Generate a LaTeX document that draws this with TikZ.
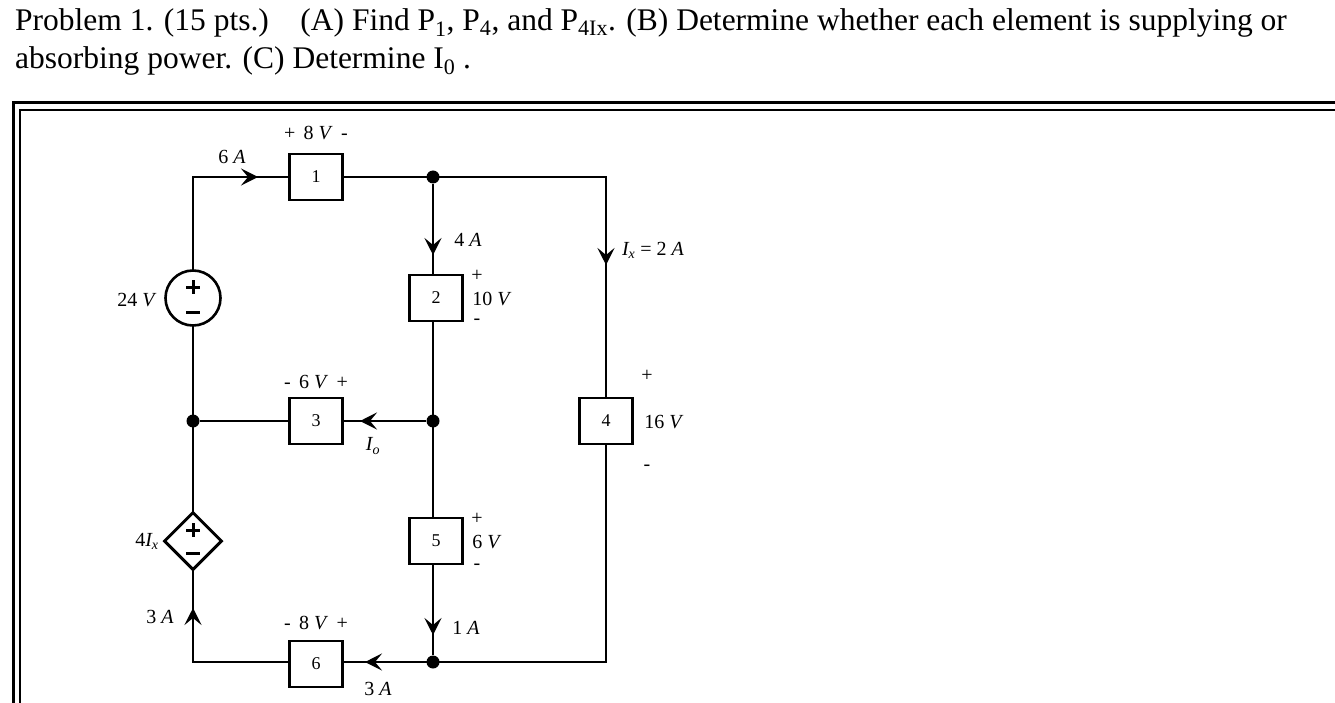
\documentclass[tikz,border=0pt]{standalone}
\usepackage{fontspec}
\setmainfont{Liberation Serif}
\usetikzlibrary{arrows.meta,shapes.geometric}
\begin{document}
\begin{tikzpicture}[x=1pt,y=-1pt,
  w/.style={line width=2.2pt},
  el/.style={draw,line width=2.6pt,minimum width=53pt,minimum height=46pt,inner sep=0pt,font=\fontsize{18}{18}\selectfont,fill=white},
  dot/.style={circle,fill,inner sep=0pt,minimum size=13pt},
  lab/.style={font=\fontsize{20}{20}\selectfont},
  cur/.style={line width=2.2pt,-{Stealth[length=17pt,width=17pt,inset=7pt]}}]
\useasboundingbox (0,0) rectangle (1335,703);
\node[anchor=north west,align=left,inner sep=0pt,font=\fontsize{31.5}{38}\selectfont] (title) at (15,8)
 {Problem 1. (15 pts.)\quad (A) Find P\textsubscript{1}, P\textsubscript{4}, and P\textsubscript{4Ix}. (B) Determine whether each element is supplying or\\absorbing power. (C) Determine I\textsubscript{0} .};
% frame
\draw[line width=3pt] (13,710) -- (13,103) -- (1340,103);
\draw[line width=2pt] (20,710) -- (20,110) -- (1340,110);
\coordinate (tl) at (193,177); \coordinate (tr) at (606,177);
\coordinate (bl) at (193,662); \coordinate (br) at (606,662);
\node[dot] (nt) at (433,177) {};
\node[dot] (nml) at (193,421) {};
\node[dot] (nmr) at (433,421) {};
\node[dot] (nb) at (433,662) {};
\draw[w] (tl) -- (tr) -- (br) -- (bl) -- cycle;
\draw[w] (nt) -- (nb);
\draw[w] (nml) -- (nmr);
\node[el] (e1) at (316,177) {1};
\node[el] (e2) at (436,298) {2};
\node[el] (e3) at (316,421) {3};
\node[el] (e4) at (606,421) {4};
\node[el] (e5) at (436,541) {5};
\node[el] (e6) at (316,664) {6};
\node[circle,draw,line width=2.6pt,minimum size=55pt,fill=white] (v24) at (193,298) {};
\draw[line width=3pt] (186,287)--(200,287) (193,280)--(193,294) (186,312)--(200,312);
\node[diamond,draw,line width=3pt,minimum size=58pt,inner sep=0pt,fill=white] (dep) at (193,541) {};
\draw[line width=3pt] (186,530)--(200,530) (193,523)--(193,537) (186,553)--(200,553);
\draw[cur] (225,177) -- (258,177);
\draw[cur] (433,222) -- (433,255);
\draw[cur] (606,232) -- (606,265);
\draw[cur] (412,421) -- (360,421);
\draw[cur] (433,602) -- (433,635);
\draw[cur] (412,662) -- (365,662);
\draw[cur] (193,642) -- (193,608);
\node[lab] (l1) at (316,133) {+\, 8 \textit{V} \,-};
\node[lab] (l2) at (232,157) {6 \textit{A}};
\node[lab] (l3) at (468,240) {4 \textit{A}};
\node[lab] (l4) at (653,250) {\textit{I\textsubscript{x}} = 2 \textit{A}};
\node[lab] (l5) at (477,276) {+};
\node[lab] (l6) at (492,299) {10 \textit{V}};
\node[lab] (l7) at (477,322) {-};
\node[lab] (l8) at (137,300) {24 \textit{V}};
\node[lab] (l9) at (316,382) {-\, 6 \textit{V} \,+};
\node[lab] (l10) at (373,446) {\textit{I\textsubscript{o}}};
\node[lab] (l11) at (647,376) {+};
\node[lab] (l12) at (664,422) {16 \textit{V}};
\node[lab] (l13) at (647,468) {-};
\node[lab] (l14) at (147,541) {4\textit{I\textsubscript{x}}};
\node[lab] (l15) at (477,519) {+};
\node[lab] (l16) at (487,542) {6 \textit{V}};
\node[lab] (l17) at (477,567) {-};
\node[lab] (l18) at (160,617) {3 \textit{A}};
\node[lab] (l19) at (316,623) {-\, 8 \textit{V} \,+};
\node[lab] (l20) at (466,628) {1 \textit{A}};
\node[lab] (l21) at (378,689) {3 \textit{A}};
\end{tikzpicture}
\end{document}
